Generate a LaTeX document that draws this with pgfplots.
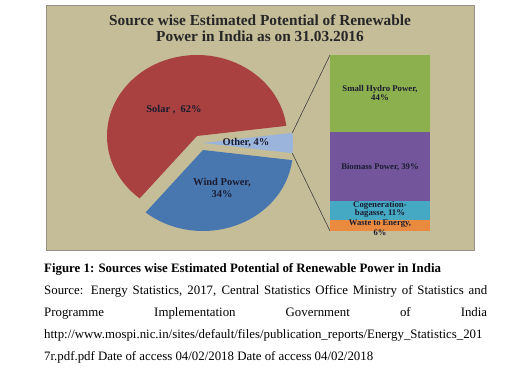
\documentclass[border=0pt]{standalone}
\usepackage{pgfplots}
\usepackage{pgfplotstable}
\usepackage{fontspec}
\setmainfont{Liberation Serif}
\pgfplotsset{compat=1.18}
\definecolor{bgtan}{HTML}{C5BD98}
\definecolor{solarc}{HTML}{A8413F}
\definecolor{windc}{HTML}{4877B0}
\definecolor{otherc}{HTML}{9AB4DC}
\definecolor{hydroc}{HTML}{8DB04F}
\definecolor{bioc}{HTML}{72559B}
\definecolor{cogenc}{HTML}{45A9C4}
\definecolor{wastec}{HTML}{E98A3E}
\definecolor{labc}{HTML}{1C1C30}
\pgfplotstableread{
label value
Solar 62
Wind 34
Other 4
}\pietable
\pgfplotstableread{
x waste cogen bio hydro
0 6 11 39 44
}\bartable
\pgfplotstablegetelem{0}{value}\of\pietable \let\vSolar\pgfplotsretval
\pgfplotstablegetelem{1}{value}\of\pietable \let\vWind\pgfplotsretval
\pgfplotstablegetelem{2}{value}\of\pietable \let\vOther\pgfplotsretval
\pgfmathsetmacro\aOther{3.6*\vOther/2}
\pgfmathsetmacro\aSolarEnd{\aOther+3.6*\vSolar}
\pgfmathsetmacro\aWindEnd{\aSolarEnd+3.6*\vWind}
\newcommand\slice[5]{%
  \fill[#5] (axis cs:#1,#2) -- (axis cs:{#1+90*cos(#3)},{#2-81*sin(#3)})
    arc[start angle=#3, end angle=#4, x radius=90bp, y radius=81bp] -- cycle;}
\begin{document}
\begin{tikzpicture}
\path[use as bounding box] (0,0) rectangle (515bp,375bp);
\begin{axis}[
  at={(0,0)}, anchor=south west,
  scale only axis, width=515bp, height=375bp,
  xmin=0, xmax=515, ymin=0, ymax=375, y dir=reverse,
  hide axis, clip=false]
  \fill[bgtan, draw=gray!70!bgtan, line width=0.8pt] (axis cs:46,5) rectangle (axis cs:474,250);
  \node[font=\bfseries\fontsize{15.4}{15.5}\selectfont, align=center, text=black!85] at (axis cs:260,28)
    {Source wise Estimated Potential of Renewable\\Power in India as on 31.03.2016};
  \slice{197}{136}{\aOther}{\aSolarEnd}{solarc}
  \slice{203}{150}{\aSolarEnd}{\aWindEnd}{windc}
  \slice{203}{143}{-\aOther}{\aOther}{otherc}
  \draw[black!75, line width=0.6pt] (axis cs:{203+90*cos(\aOther)},{143-81*sin(\aOther)}) -- (axis cs:330,55);
  \draw[black!75, line width=0.6pt] (axis cs:{203+90*cos(\aOther)},{143+81*sin(\aOther)}) -- (axis cs:330,231);
  \node[font=\bfseries\fontsize{10.5}{11}\selectfont, text=labc] at (axis cs:174,110) {Solar ,\ \ 62\%};
  \node[font=\bfseries\fontsize{10.5}{11}\selectfont, text=labc] at (axis cs:246,143) {Other, 4\%};
  \node[font=\bfseries\fontsize{10.5}{11.5}\selectfont, text=labc, align=center] at (axis cs:222,188) {Wind Power,\\34\%};
  \node[font=\bfseries\fontsize{12.9}{13}\selectfont, anchor=base west, inner xsep=0pt] at (axis cs:44,272)
    {Figure 1: Sources wise Estimated Potential of Renewable Power in India};
  \node[font=\fontsize{12.9}{13}\selectfont, anchor=base west, inner xsep=0pt] at (axis cs:44,294)
    {\makebox[443bp][s]{Source: Energy Statistics, 2017, Central Statistics Office Ministry of Statistics and}};
  \node[font=\fontsize{12.9}{13}\selectfont, anchor=base west, inner xsep=0pt] at (axis cs:44,316)
    {\makebox[443bp][s]{Programme\hfill Implementation\hfill Government\hfill of\hfill India}};
  \node[font=\fontsize{12.9}{13}\selectfont, anchor=base west, inner xsep=0pt] at (axis cs:44,338)
    {http://www.mospi.nic.in/sites/default/files/publication\_reports/Energy\_Statistics\_201};
  \node[font=\fontsize{12.9}{13}\selectfont, anchor=base west, inner xsep=0pt] at (axis cs:44,360)
    {7r.pdf.pdf Date of access 04/02/2018 Date of access 04/02/2018};
\end{axis}
\begin{axis}[
  name=bar,
  at={(330bp,144bp)}, anchor=south west,
  scale only axis, width=100bp, height=176bp,
  xmin=-1, xmax=1, ymin=0, ymax=100,
  hide axis, clip=false,
  ybar stacked, bar width=100bp, bar shift=0pt]
  \addplot[fill=wastec, draw=none] table[x=x, y=waste] {\bartable};
  \addplot[fill=cogenc, draw=none] table[x=x, y=cogen] {\bartable};
  \addplot[fill=bioc, draw=none] table[x=x, y=bio] {\bartable};
  \addplot[fill=hydroc, draw=none] table[x=x, y=hydro] {\bartable};
\end{axis}
\node[font=\bfseries\fontsize{8.8}{10}\selectfont, text=labc, align=center] at (380bp,{(375-93)*1bp}) {Small Hydro Power,\\44\%};
\node[font=\bfseries\fontsize{8.7}{9}\selectfont, text=labc] at (380bp,{(375-167)*1bp}) {Biomass Power, 39\%};
\node[font=\bfseries\fontsize{8.8}{8.6}\selectfont, text=labc, align=center, inner sep=0pt] at (380bp,{(375-209.5)*1bp}) {Cogeneration-\\bagasse, 11\%};
\node[font=\bfseries\fontsize{8.6}{10}\selectfont, text=labc, align=center, inner sep=0pt] at (380bp,{(375-227.5)*1bp}) {Waste to Energy,\\6\%};
\end{tikzpicture}
\end{document}
